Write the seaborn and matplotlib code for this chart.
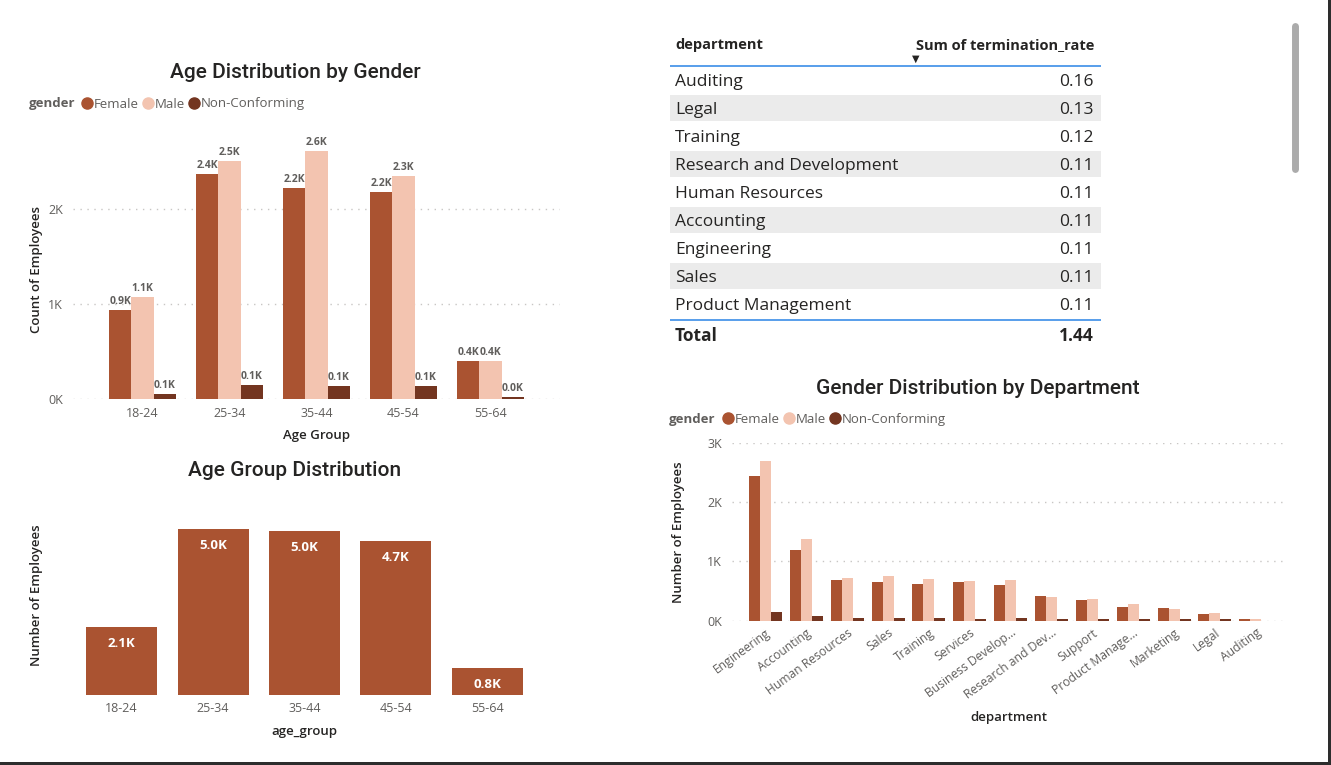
import numpy as np
import pandas as pd
import seaborn as sns
import matplotlib.pyplot as plt
import matplotlib.transforms as mtransforms
from matplotlib.lines import Line2D
from matplotlib.patches import Rectangle

# ---- data ----
age_groups = ["18-24", "25-34", "35-44", "45-54", "55-64"]
genders = ["Female", "Male", "Non-Conforming"]
age_female = [937, 2368, 2221, 2179, 400]
age_male = [1074, 2505, 2610, 2347, 400]
age_nc = [53, 147, 137, 137, 21]

departments = ["Engineering", "Accounting", "Human Resources", "Sales", "Training",
               "Services", "Business Development", "Research and Development",
               "Support", "Product Management", "Marketing", "Legal", "Auditing"]
dept_ticklabels = ["Engineering", "Accounting", "Human Resources", "Sales", "Training",
                   "Services", "Business Develop...", "Research and Dev...",
                   "Support", "Product Manage...", "Marketing", "Legal", "Auditing"]
dept_female = [2445, 1186, 683, 649, 615, 649, 598, 414, 347, 229, 212, 112, 28]
dept_male = [2685, 1370, 716, 750, 700, 666, 683, 397, 364, 280, 196, 129, 28]
dept_nc = [146, 79, 45, 45, 45, 28, 45, 28, 28, 28, 28, 28, 3]

table_depts = ["Auditing", "Legal", "Training", "Research and Development",
               "Human Resources", "Accounting", "Engineering", "Sales",
               "Product Management"]
table_rates = [0.16, 0.13, 0.12, 0.11, 0.11, 0.11, 0.11, 0.11, 0.11]
table_total = 1.44

COLOR = {"Female": "#aa5331", "Male": "#f3c4b0", "Non-Conforming": "#733520"}
TXT = "#605e5c"
DARK = "#252423"

age = pd.DataFrame({"age_group": age_groups, "Female": age_female,
                    "Male": age_male, "Non-Conforming": age_nc})
age_long = age.melt(id_vars="age_group", var_name="gender", value_name="count")
age_tot = age_long.groupby("age_group", as_index=False)["count"].sum()

dept = pd.DataFrame({"department": departments, "Female": dept_female,
                     "Male": dept_male, "Non-Conforming": dept_nc})
dept_long = dept.melt(id_vars="department", var_name="gender", value_name="count")

W, H = 1331, 765
sns.set_theme(style="white")
plt.rcParams['font.family'] = ['Open Sans', 'DejaVu Sans']

fig = plt.figure(figsize=(W / 100, H / 100), dpi=100)
fig.set_facecolor("white")


def px_axes(x0, y0, x1, y1):
    return fig.add_axes([x0 / W, 1 - y1 / H, (x1 - x0) / W, (y1 - y0) / H])


def kfmt(v):
    return f"{v / 1000:.1f}K"


def style_axes(ax):
    for s in ax.spines.values():
        s.set_visible(False)
    ax.tick_params(length=0, colors=TXT, labelsize=9)
    ax.set_facecolor("white")


def title(x, y, s):
    fig.text(x / W, 1 - y / H, s, ha="center", va="center", fontsize=15,
             family=["Roboto", "DejaVu Sans"], fontweight="medium", color=DARK)


def gender_legend(x, y, x_items):
    fig.text(x / W, 1 - y / H, "gender", ha="left", va="center", fontsize=9.5,
             fontweight="bold", color=TXT)
    handles = [Line2D([], [], marker="o", linestyle="", markersize=8, color=COLOR[g])
               for g in genders]
    fig.legend(handles, genders, loc="center left",
               bbox_to_anchor=(x_items / W, 1 - y / H), ncol=3, frameon=False,
               handletextpad=0.1, columnspacing=0.3, handlelength=0.8,
               fontsize=9.5, labelcolor=TXT, borderaxespad=0, borderpad=0)


"""
Age Distribution by Gender
"""
ax1 = px_axes(73, 140, 560, 399)
sns.barplot(data=age_long, x="age_group", y="count", hue="gender", order=age_groups,
            hue_order=genders, palette=COLOR, width=0.77, saturation=1,
            linewidth=0, legend=False, ax=ax1)
style_axes(ax1)
ax1.set_xlim(-0.80, 4.80)
ax1.set_ylim(0, 2726)
ax1.set_yticks([0, 1000, 2000], ["0K", "1K", "2K"])
ax1.yaxis.grid(True, linestyle=(0, (1, 4)), color="#c8c6c4", linewidth=1)
ax1.set_axisbelow(True)
for cont in ax1.containers:
    ax1.bar_label(cont, labels=[kfmt(b.get_height()) for b in cont], padding=2,
                  fontsize=7.5, fontweight="bold", color=TXT)
ax1.set_xlabel("Age Group", fontsize=9.5, fontweight="semibold", color=DARK)
ax1.set_ylabel("Count of Employees", fontsize=9.5, fontweight="semibold", color=DARK)
ax1.xaxis.set_label_coords(0.5, -0.115)
ax1.yaxis.set_label_coords(-0.074, 0.5)
ax1.yaxis.label.set_va("center")
ax1.tick_params(axis="y", pad=7)
ax1.tick_params(axis="x", pad=6)
title(295, 73, "Age Distribution by Gender")
gender_legend(29, 104, 82)

"""
Age Group Distribution
"""
ax2 = px_axes(53, 520, 556, 695)
sns.barplot(data=age_tot, x="age_group", y="count", order=age_groups,
            color=COLOR["Female"], width=0.776, saturation=1, linewidth=0, ax=ax2)
style_axes(ax2)
ax2.set_xlim(-0.75, 4.75)
ax2.set_ylim(0, 5287)
ax2.set_yticks([])
for cont in ax2.containers:
    ax2.bar_label(cont, labels=[kfmt(b.get_height()) for b in cont], padding=-17,
                  fontsize=9.5, fontweight="bold", color="white")
ax2.set_xlabel("age_group", fontsize=9.5, fontweight="semibold", color=DARK)
ax2.set_ylabel("Number of Employees", fontsize=9.5, fontweight="semibold", color=DARK)
ax2.xaxis.set_label_coords(0.5, -0.17)
ax2.yaxis.set_label_coords(-0.032, 0.57)
ax2.yaxis.label.set_va("center")
ax2.tick_params(axis="x", pad=5)
title(295, 471, "Age Group Distribution")

"""
Gender Distribution by Department
"""
ax3 = px_axes(732, 442.7, 1286, 620.7)
sns.barplot(data=dept_long, x="department", y="count", hue="gender", order=departments,
            hue_order=genders, palette=COLOR, width=0.81, saturation=1,
            linewidth=0, legend=False, ax=ax3)
style_axes(ax3)
ax3.set_xlim(-0.82, 12.74)
ax3.set_ylim(0, 3000)
ax3.set_yticks([0, 1000, 2000, 3000], ["0K", "1K", "2K", "3K"])
ax3.yaxis.grid(True, linestyle=(0, (1, 4)), color="#c8c6c4", linewidth=1)
ax3.set_axisbelow(True)
ax3.set_xticks(range(len(departments)), dept_ticklabels, rotation=36, ha="right",
               rotation_mode="anchor", fontsize=8.7)
shift = mtransforms.ScaledTranslation(-6 / 100, 0, fig.dpi_scale_trans)
for lab in ax3.get_xticklabels():
    lab.set_transform(lab.get_transform() + shift)
ax3.tick_params(axis="y", pad=7)
ax3.tick_params(axis="x", pad=4)
ax3.set_xlabel("department", fontsize=9.5, fontweight="semibold", color=DARK)
ax3.set_ylabel("Number of Employees", fontsize=9.5, fontweight="semibold", color=DARK)
ax3.xaxis.set_label_coords(0.5, -0.51)
ax3.yaxis.set_label_coords(-0.097, 0.5)
ax3.yaxis.label.set_va("center")
title(978, 389, "Gender Distribution by Department")
gender_legend(669, 419, 723)

"""
Termination rate table
"""
axt = px_axes(660, 25, 1110, 355)
axt.set_xlim(660, 1110)
axt.set_ylim(355, 25)
axt.axis("off")
row_h = 28.05
top0 = 66
axt.text(675, 45, "department", fontsize=10.5, fontweight="bold", color=DARK,
         va="center", ha="left")
axt.text(1094, 45, "Sum of termination_rate", fontsize=10.5, fontweight="bold",
         color=DARK, va="center", ha="right")
axt.text(916, 59, "\u25bc", fontsize=7, color=DARK, va="center", ha="center")
for i, (name, rate) in enumerate(zip(table_depts, table_rates)):
    top = top0 + row_h * i
    if i % 2 == 1:
        axt.add_patch(Rectangle((670, top + 1), 431, row_h - 2, color="#ebebeb", lw=0))
    axt.text(675, top + row_h / 2 + 2, name, fontsize=12.5, color=DARK,
             va="center", ha="left")
    axt.text(1094, top + row_h / 2 + 2, f"{rate:.2f}", fontsize=12.5, color=DARK,
             va="center", ha="right")
end = top0 + row_h * len(table_depts)
axt.hlines([top0, end + 1.5], 670, 1101, color="#3b8ee8", lw=1.2)
axt.text(675, end + 18, "Total", fontsize=12.5, fontweight="bold", color=DARK,
         va="center", ha="left")
axt.text(1094, end + 18, f"{table_total:.2f}", fontsize=12.5, fontweight="bold",
         color=DARK, va="center", ha="right")

# scrollbar and frame edges
fig.add_artist(Line2D([1294.5 / W] * 2, [1 - 26 / H, 1 - 169 / H], lw=5,
                      color="#ababab", solid_capstyle="round"))
fig.add_artist(Rectangle((1328 / W, 0), 3 / W, 1, color="#2d2d2d", lw=0))
fig.add_artist(Rectangle((0, 0), 1, 3 / H, color="#2d2d2d", lw=0))

plt.savefig("out.png", dpi=100, facecolor="white")
